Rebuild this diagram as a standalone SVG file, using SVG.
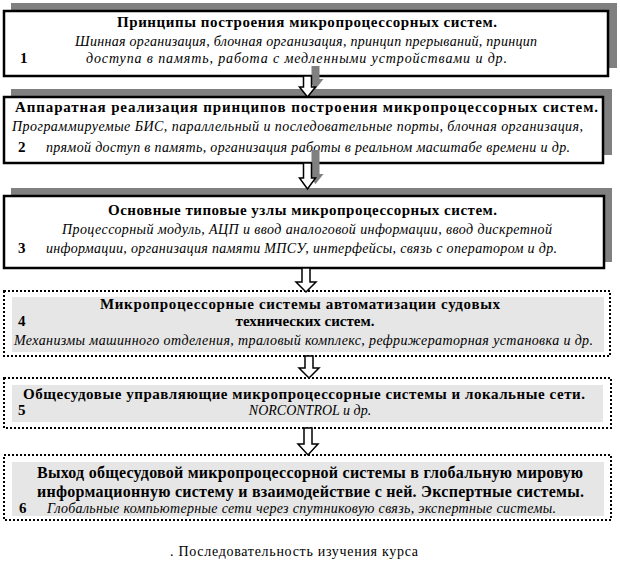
<svg xmlns="http://www.w3.org/2000/svg" width="620" height="570" viewBox="0 0 620 570">
<style>
.sh{fill:#808080}
.box{fill:#fff;stroke:#000;stroke-width:2.5}
.dot{fill:#fff;stroke:#000;stroke-width:2;stroke-dasharray:2 2}
.in{fill:#e6e6e6}
text{font-family:'Liberation Serif','DejaVu Serif',serif;fill:#000}
.b{font-size:15px;font-weight:bold}
.i{font-size:14px;font-style:italic}
.r{font-size:14px}
.ar{fill:#fff;stroke:#000;stroke-width:1.5}
.as{fill:#808080}
</style>
<rect width="620" height="570" fill="#fff"/>
<g id="node1">
<rect class="sh" x="11" y="3" width="606" height="65"/>
<rect class="box" x="4" y="11" width="604" height="65"/>
<text class="b" x="117" y="27" textLength="380">Принципы построения микропроцессорных систем.</text>
<text class="i" x="75" y="46" textLength="462">Шинная организация, блочная организация, принцип прерываний, принцип</text>
<text class="b" x="20" y="63">1</text>
<text class="i" x="86" y="63" textLength="421">доступа в память, работа с медленными устройствами и др.</text>
</g>
<g id="node2">
<rect class="sh" x="11" y="89" width="601" height="66"/>
<rect class="box" x="4" y="97" width="599" height="66"/>
<text class="b" x="15" y="112" textLength="583">Аппаратная реализация принципов построения микропроцессорных систем.</text>
<text class="i" x="12" y="131" textLength="571">Программируемые БИС, параллельный и последовательные порты, блочная организация,</text>
<text class="b" x="18" y="152">2</text>
<text class="i" x="46" y="152" textLength="524">прямой доступ в память, организация работы в реальном масштабе времени и др.</text>
</g>
<g id="node3">
<rect class="sh" x="11" y="188" width="601" height="74"/>
<rect class="box" x="4" y="196" width="600" height="72"/>
<text class="b" x="108" y="215" textLength="389">Основные типовые узлы микропроцессорных систем.</text>
<text class="i" x="62" y="234" textLength="490">Процессорный модуль,  АЦП и ввод аналоговой информации, ввод дискретной</text>
<text class="b" x="18" y="253">3</text>
<text class="i" x="46" y="253" textLength="511">информации, организация памяти МПСУ, интерфейсы, связь с оператором и др.</text>
</g>
<g id="node4">
<rect class="dot" x="4" y="291" width="606" height="65"/>
<rect class="in" x="12" y="297" width="592" height="55"/>
<text class="b" x="100" y="309" textLength="400">Микропроцессорные системы автоматизации судовых</text>
<text class="b" x="18" y="326">4</text>
<text class="b" x="305" y="326" text-anchor="middle">технических систем.</text>
<text class="i" x="14" y="345" textLength="579">Механизмы машинного отделения, траловый комплекс, рефрижераторная установка и др.</text>
</g>
<g id="node5">
<rect class="dot" x="4" y="378" width="607" height="50"/>
<rect class="in" x="12" y="385" width="591" height="37"/>
<text class="b" x="23" y="399" textLength="562">Общесудовые управляющие микропроцессорные системы и локальные сети.</text>
<text class="b" x="18" y="415">5</text>
<text class="i" x="310" y="415" text-anchor="middle">NORCONTROL и др.</text>
</g>
<g id="node6">
<rect class="dot" x="4" y="455" width="607" height="65"/>
<rect class="in" x="12" y="462" width="592" height="54"/>
<text class="b" x="37" y="478" textLength="546" style="font-size:16px">Выход общесудовой микропроцессорной системы в глобальную мировую</text>
<text class="b" x="37" y="497" textLength="547" style="font-size:16px">информационную систему и взаимодействие с ней. Экспертные системы.</text>
<text class="b" x="19" y="513">6</text>
<text class="i" x="47" y="513" textLength="509">Глобальные компьютерные сети через спутниковую связь, экспертные системы.</text>
</g>
<g id="connectors">
<polygon class="as" points="311.5,66 319.5,66 319.5,79 323.5,79 315.5,89 307.5,79 311.5,79"/>
<polygon class="ar" points="303.5,76 311.5,76 311.5,87 315.5,87 307.5,97 299.5,87 303.5,87"/>
<polygon class="as" points="311.5,150 319.5,150 319.5,174 323.5,174 315.5,184 307.5,174 311.5,174"/>
<polygon class="ar" points="303.5,163 311.5,163 311.5,178 315.5,178 307.5,189 299.5,178 303.5,178"/>
<polygon class="ar" points="302,268 310,268 310,282 316,282 306,292 296,282 302,282"/>
<polygon class="ar" points="305,356 313,356 313,368 319,368 309,378 299,368 305,368"/>
<polygon class="ar" points="304,428 312,428 312,444 318,444 308,455 298,444 304,444"/>
</g>
<text class="r" x="170" y="556" textLength="248">. Последовательность изучения курса</text>
</svg>
